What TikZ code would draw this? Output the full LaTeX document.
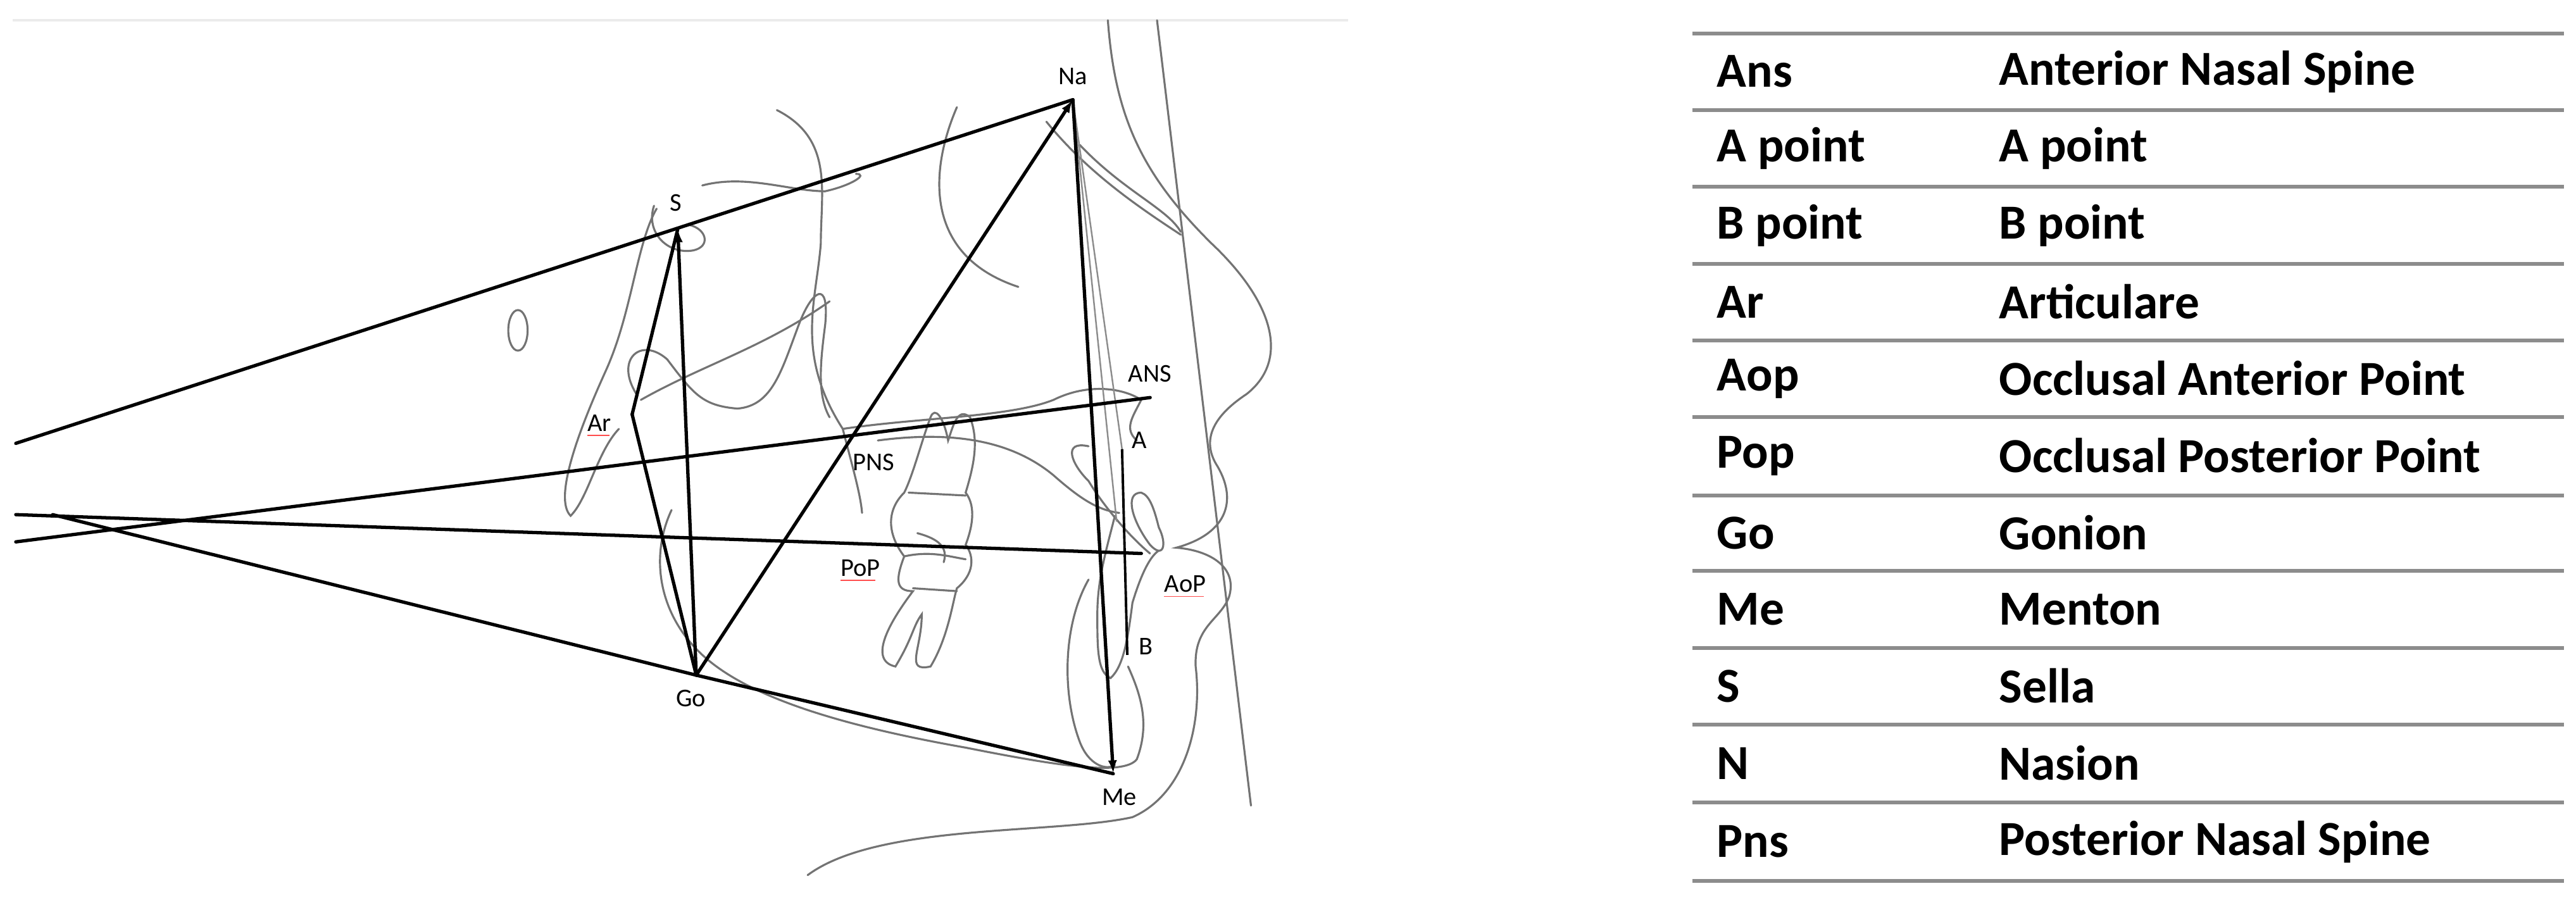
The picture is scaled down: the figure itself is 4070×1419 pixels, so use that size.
\documentclass[tikz,border=0pt]{standalone}
\usepackage{fontspec}
\setmainfont{Carlito}
\usetikzlibrary{arrows.meta}
\tikzset{
  bone/.style={draw=black!55, line width=0.9pt, line cap=round},
  meas/.style={draw=black, line width=1.5pt, line cap=round},
  lab/.style={font=\fontsize{11.5}{13}\selectfont, inner sep=0pt},
  tip/.style={-{Latex[length=6pt,width=4pt]}},
  rule/.style={draw=black!45, line width=1.6pt},
  c1/.style={anchor=west, font=\fontsize{22}{26}\selectfont\bfseries, inner sep=0pt},
  c2/.style={anchor=west, font=\fontsize{22}{26}\selectfont\bfseries, inner sep=0pt},
  squig/.style={draw=red!70, line width=0.5pt}
}
\begin{document}
\begin{tikzpicture}[x=0.01cm,y=-0.01cm]
\useasboundingbox (0,0) rectangle (4070,1419);
\draw[black!8, line width=1pt] (20,32) -- (2130,32);
\begin{scope}[xscale=1.387, yscale=0.9158]
% gray anatomy
\draw[bone] (1318,35) -- (1425,1390);
\draw[bone] (1262,35) .. controls (1270,200) and (1300,300) .. (1380,420) .. controls (1450,520) and (1470,620) .. (1420,680) .. controls (1380,720) and (1370,760) .. (1385,800) .. controls (1410,860) and (1400,920) .. (1340,945) .. controls (1380,950) and (1410,980) .. (1400,1030) .. controls (1390,1070) and (1360,1080) .. (1362,1150) .. controls (1370,1250) and (1350,1370) .. (1290,1410) .. controls (1200,1440) and (1000,1420) .. (920,1510);
\draw[bone] (1192,210) .. controls (1240,300) and (1300,360) .. (1345,405);
\draw[bone] (1230,250) .. controls (1280,330) and (1330,360) .. (1345,400);
\draw[bone] (1090,185) .. controls (1060,290) and (1050,440) .. (1160,495);
\draw[bone] (885,190) .. controls (950,240) and (935,330) .. (935,420) .. controls (930,520) and (905,610) .. (960,740) .. controls (970,800) and (980,850) .. (982,885);
\draw[bone] (800,320) .. controls (850,300) and (900,330) .. (940,330) .. controls (970,320) and (990,300) .. (975,300);
\draw[bone] (745,355) .. controls (735,400) and (760,440) .. (790,432) .. controls (810,425) and (805,395) .. (785,388);
\draw[bone] (590,570) ellipse (11 and 35);
\draw[bone] (748,360) .. controls (725,420) and (720,540) .. (690,640) .. controls (660,740) and (630,860) .. (650,890) .. controls (670,860) and (680,780) .. (705,740);
\draw[bone] (725,680) .. controls (700,620) and (730,580) .. (760,620) .. controls (790,680) and (800,700) .. (840,705) .. controls (880,700) and (890,640) .. (910,560) .. controls (925,500) and (945,480) .. (940,560) .. controls (935,620) and (930,680) .. (945,720);
\draw[bone] (730,690) .. controls (800,630) and (870,600) .. (945,520);
\draw[bone] (960,740) .. controls (1050,720) and (1150,720) .. (1200,690) .. controls (1240,660) and (1280,670) .. (1300,690) .. controls (1290,720) and (1280,740) .. (1295,760);
\draw[bone] (1000,760) .. controls (1100,740) and (1160,770) .. (1200,820) .. controls (1230,860) and (1250,880) .. (1275,885);
% molar
\draw[bone] (1060,720) .. controls (1050,760) and (1040,820) .. (1030,850) .. controls (1010,880) and (1010,920) .. (1030,960) .. controls (1020,1000) and (1020,1020) .. (1040,1020) .. controls (1010,1080) and (990,1140) .. (1020,1150) .. controls (1040,1100) and (1040,1080) .. (1050,1060) .. controls (1050,1120) and (1030,1160) .. (1060,1150) .. controls (1080,1100) and (1085,1040) .. (1090,1015) .. controls (1110,990) and (1110,960) .. (1100,940) .. controls (1110,900) and (1110,870) .. (1100,850) .. controls (1110,800) and (1115,760) .. (1105,720) .. controls (1090,700) and (1085,740) .. (1080,760) .. controls (1075,720) and (1065,700) .. (1060,720);
\draw[bone] (1035,850) -- (1100,855);
\draw[bone] (1030,960) .. controls (1060,950) and (1080,960) .. (1100,965);
\draw[bone] (1045,920) .. controls (1070,930) and (1080,945) .. (1075,970);
\draw[bone] (1040,1015) -- (1090,1020);
% incisors
\draw[bone] (1240,770) .. controls (1210,760) and (1220,800) .. (1240,830) .. controls (1260,880) and (1290,930) .. (1310,955);
\draw[bone] (1300,850) .. controls (1280,850) and (1290,900) .. (1310,940) .. controls (1325,965) and (1330,940) .. (1320,910) .. controls (1315,880) and (1310,855) .. (1300,850);
\draw[bone] (1270,890) .. controls (1260,950) and (1250,1000) .. (1250,1060) .. controls (1250,1120) and (1250,1160) .. (1265,1170) .. controls (1280,1150) and (1285,1100) .. (1290,1040) .. controls (1300,990) and (1310,960) .. (1320,950);
% mandible
\draw[bone] (765,880) .. controls (740,960) and (750,1060) .. (800,1130) .. controls (850,1200) and (950,1250) .. (1100,1290) .. controls (1200,1320) and (1280,1340) .. (1295,1310) .. controls (1310,1250) and (1300,1200) .. (1285,1150);
\draw[bone] (1240,1000) .. controls (1210,1080) and (1210,1200) .. (1230,1280) .. controls (1240,1320) and (1260,1330) .. (1270,1320);
% measurement points
\coordinate (Na) at (1222,172);
\coordinate (S) at (772,395);
\coordinate (Ar) at (720,715);
\coordinate (Go) at (793,1165);
\coordinate (Me) at (1268,1335);
\coordinate (ANS) at (1310,686);
\coordinate (AoP) at (1300,955);
\coordinate (Apt) at (1278,775);
\coordinate (Bpt) at (1284,1130);
\coordinate (L1) at (18,765);
\coordinate (L2) at (18,935);
\coordinate (L3) at (18,888);
\coordinate (L4) at (60,888);
% thin gray lines
\draw[black!45, line width=0.7pt] (Na) -- (Apt);
\draw[black!45, line width=0.7pt] (Na) -- (1272,900);
\draw[black, line width=1.1pt] (Apt) -- (Bpt);
% black measurement lines
\draw[meas] (L1) -- (Na);
\draw[meas] (L2) -- (ANS);
\draw[meas] (L3) -- (AoP);
\draw[meas] (L4) -- (Go) -- (Me);
\draw[meas] (Ar) -- (S);
\draw[meas] (Ar) -- (Go);
\draw[meas,tip] (Go) -- (S);
\draw[meas,tip] (Go) -- (Na);
\draw[meas,tip] (Na) -- (Me);
% labels
\node[lab] (tNa) at (1222,132) {Na};
\node[lab] (tS) at (770,350) {S};
\node[lab] (tAr) at (683,730) {Ar};
\node[lab] (tGo) at (787,1205) {Go};
\node[lab] (tMe) at (1275,1375) {Me};
\node[lab] (tANS) at (1310,645) {ANS};
\node[lab] (tPNS) at (995,798) {PNS};
\node[lab] (tA) at (1298,760) {A};
\node[lab] (tAoP) at (1350,1008) {AoP};
\node[lab] (tB) at (1305,1115) {B};
\node[lab] (tPoP) at (980,980) {PoP};
\draw[squig] (tAr.south west) ++(0,6) -- ++(25,0);
\draw[squig] (tPoP.south west) ++(0,6) -- ++(40,0);
\draw[squig] (tAoP.south west) ++(0,6) -- ++(45,0);
\end{scope}
% table
\foreach \y in {53,174,295,417,538,659,783,902,1024,1145,1268,1392}
  \draw[rule] (2674,\y) -- (4051,\y);
\node[c1] (k1) at (2712,113) {Ans};      \node[c2] (v1) at (3158,113) {Anterior Nasal Spine};
\node[c1] (k2) at (2712,234) {A point};  \node[c2] (v2) at (3158,234) {A point};
\node[c1] (k3) at (2712,356) {B point};  \node[c2] (v3) at (3158,356) {B point};
\node[c1] (k4) at (2712,477) {Ar};       \node[c2] (v4) at (3158,477) {Articulare};
\node[c1] (k5) at (2712,598) {Aop};      \node[c2] (v5) at (3158,598) {Occlusal Anterior Point};
\node[c1] (k6) at (2712,720) {Pop};      \node[c2] (v6) at (3158,720) {Occlusal Posterior Point};
\node[c1] (k7) at (2712,842) {Go};       \node[c2] (v7) at (3158,842) {Gonion};
\node[c1] (k8) at (2712,963) {Me};       \node[c2] (v8) at (3158,963) {Menton};
\node[c1] (k9) at (2712,1084) {S};       \node[c2] (v9) at (3158,1084) {Sella};
\node[c1] (k10) at (2712,1206) {N};      \node[c2] (v10) at (3158,1206) {Nasion};
\node[c1] (k11) at (2712,1330) {Pns};    \node[c2] (v11) at (3158,1330) {Posterior Nasal Spine};
\end{tikzpicture}
\end{document}
